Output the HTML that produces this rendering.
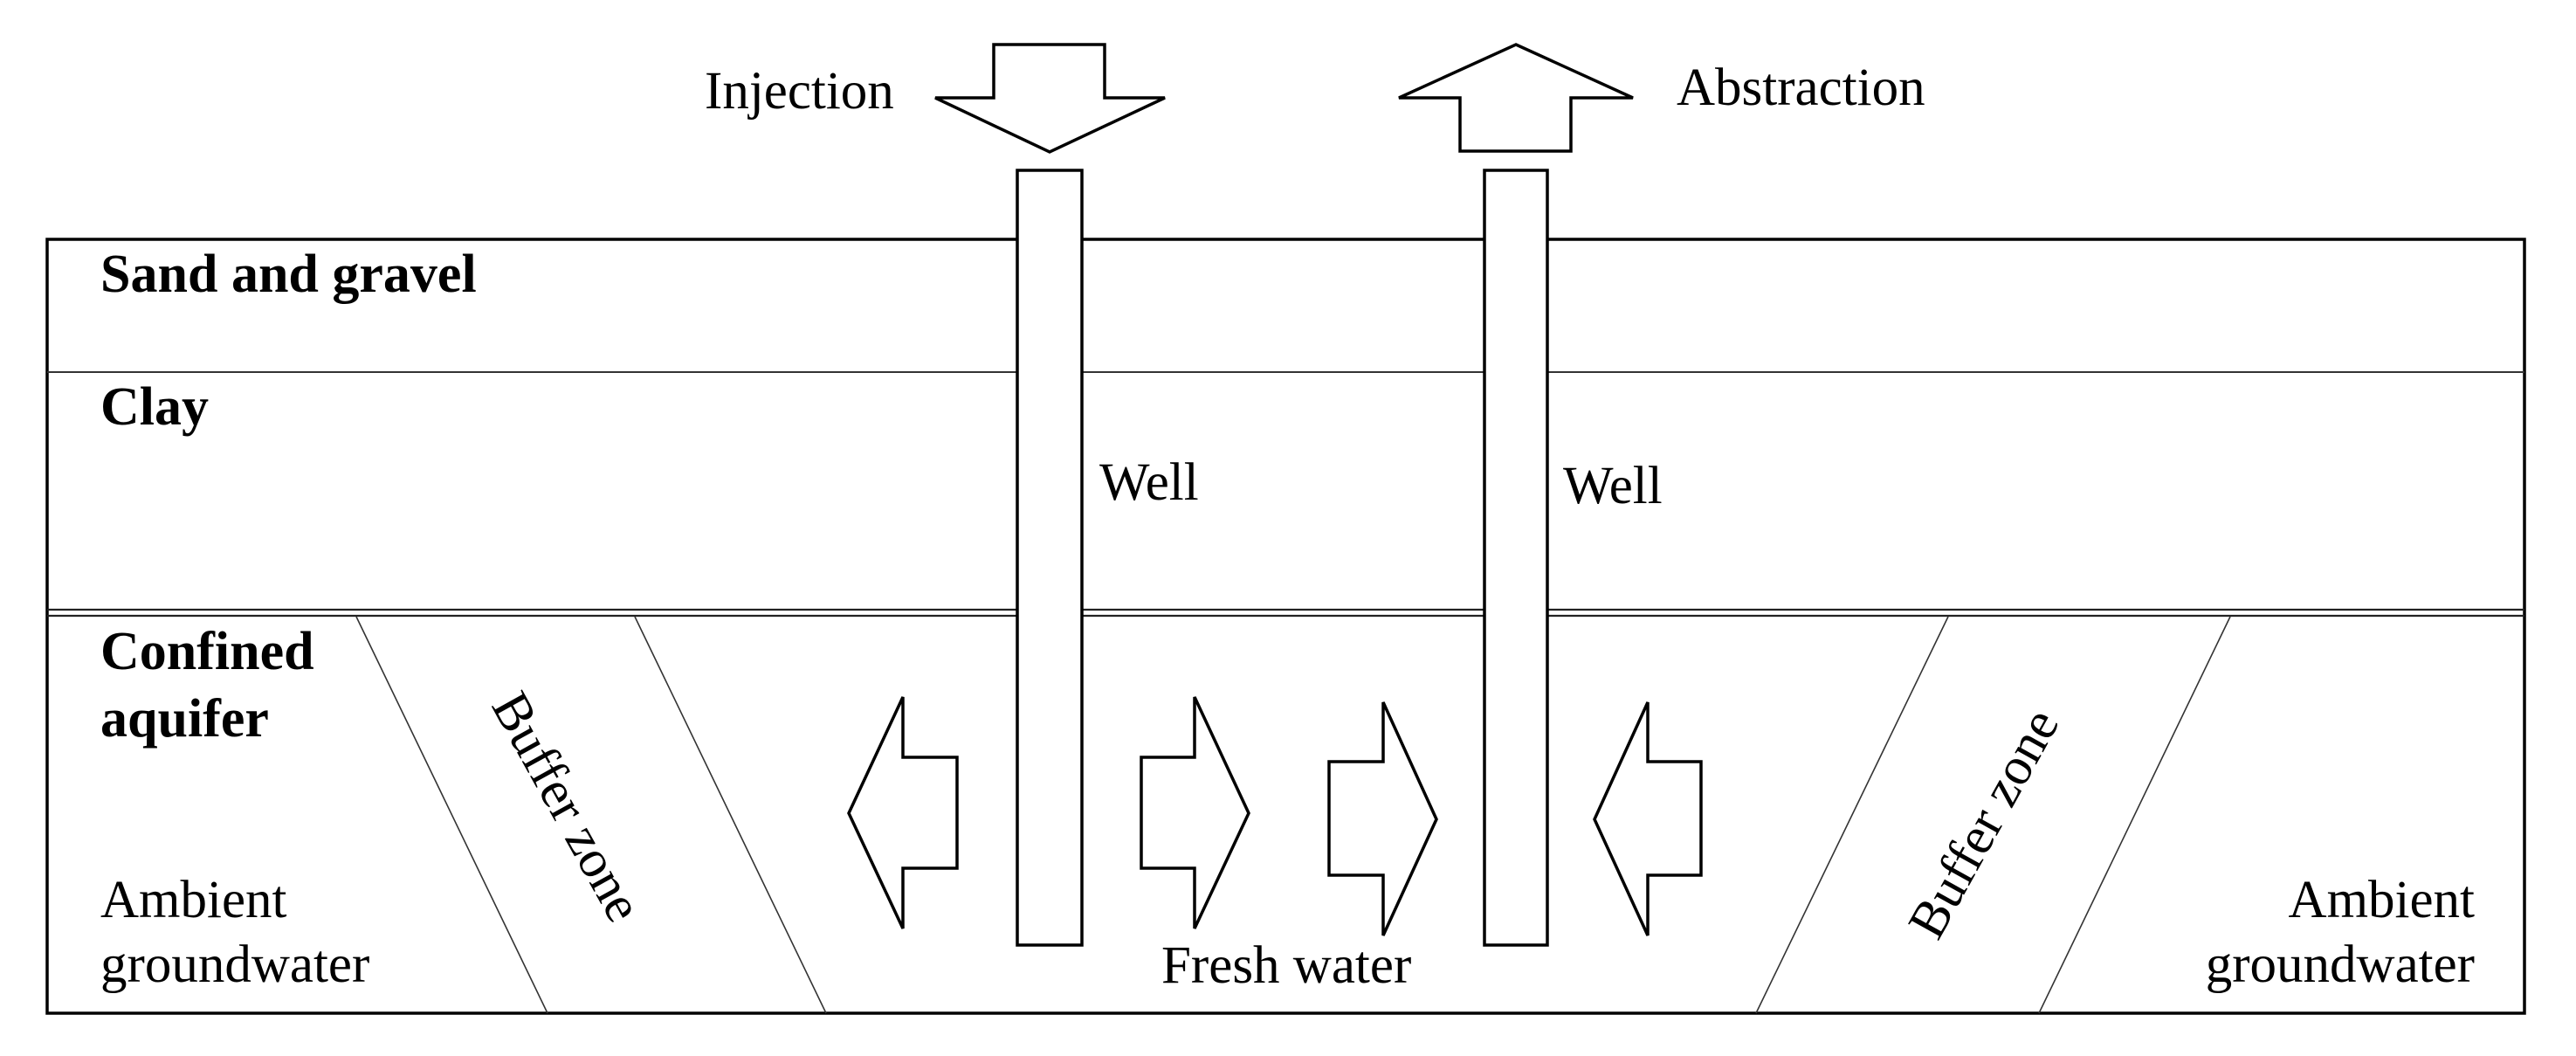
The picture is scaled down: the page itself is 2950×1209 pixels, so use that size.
<!DOCTYPE html>
<html><head><meta charset="utf-8"><style>
html,body{margin:0;padding:0;background:#fff}
svg{display:block}
text{font-family:"Liberation Serif",serif;font-size:61px;fill:#000}
.b{font-weight:bold;font-size:62px}
</style></head><body>
<svg width="2950" height="1209" viewBox="0 0 2950 1209" xmlns="http://www.w3.org/2000/svg">
<rect x="0" y="0" width="2950" height="1209" fill="#fff"/>
<!-- layers -->
<rect x="54" y="274" width="2837" height="886" fill="none" stroke="#000" stroke-width="3.5"/>
<line x1="54" y1="426" x2="2891" y2="426" stroke="#333" stroke-width="2"/>
<line x1="54" y1="698" x2="2891" y2="698" stroke="#222" stroke-width="2.2"/>
<line x1="54" y1="705" x2="2891" y2="705" stroke="#222" stroke-width="2.2"/>
<!-- buffer lines -->
<line x1="408" y1="706" x2="627" y2="1160" stroke="#333" stroke-width="1.6"/>
<line x1="727" y1="706" x2="946" y2="1160" stroke="#333" stroke-width="1.6"/>
<line x1="2231" y1="706" x2="2011" y2="1160" stroke="#333" stroke-width="1.6"/>
<line x1="2554" y1="706" x2="2335" y2="1160" stroke="#333" stroke-width="1.6"/>
<!-- wells -->
<rect x="1165" y="195" width="74" height="887" fill="#fff" stroke="#000" stroke-width="3.5"/>
<rect x="1700" y="195" width="72" height="887" fill="#fff" stroke="#000" stroke-width="3.5"/>
<!-- injection arrow -->
<polygon points="1138,51 1265,51 1265,112 1334,112 1202,174 1071,112 1138,112" fill="#fff" stroke="#000" stroke-width="3.5"/>
<!-- abstraction arrow -->
<polygon points="1736,51 1870,112 1799,112 1799,173 1672,173 1672,112 1602,112" fill="#fff" stroke="#000" stroke-width="3.5"/>
<!-- lateral arrows -->
<polygon points="972,931 1034,798 1034,867 1096,867 1096,994 1034,994 1034,1063" fill="#fff" stroke="#000" stroke-width="3.5"/>
<polygon points="1430,931 1368,798 1368,867 1307,867 1307,994 1368,994 1368,1063" fill="#fff" stroke="#000" stroke-width="3.5"/>
<polygon points="1645,938 1584,804 1584,872 1522,872 1522,1002 1584,1002 1584,1071" fill="#fff" stroke="#000" stroke-width="3.5"/>
<polygon points="1826,938 1887,804 1887,872 1948,872 1948,1002 1887,1002 1887,1071" fill="#fff" stroke="#000" stroke-width="3.5"/>
<!-- texts -->
<text class="b" x="115" y="334">Sand and gravel</text>
<text class="b" x="115" y="486">Clay</text>
<text class="b" x="115" y="766">Confined</text>
<text class="b" x="115" y="843">aquifer</text>
<text x="115" y="1050">Ambient</text>
<text x="115" y="1124">groundwater</text>
<text x="2834" y="1050" text-anchor="end">Ambient</text>
<text x="2834" y="1124" text-anchor="end">groundwater</text>
<text x="807" y="124">Injection</text>
<text x="1920" y="120">Abstraction</text>
<text x="1259" y="572">Well</text>
<text x="1790" y="576">Well</text>
<text x="1330" y="1125">Fresh water</text>
<text x="0" y="0" text-anchor="middle" dominant-baseline="central" transform="translate(649,924) rotate(61)">Buffer zone</text>
<text x="0" y="0" text-anchor="middle" dominant-baseline="central" transform="translate(2272,943) rotate(-61)">Buffer zone</text>
</svg>
</body></html>
